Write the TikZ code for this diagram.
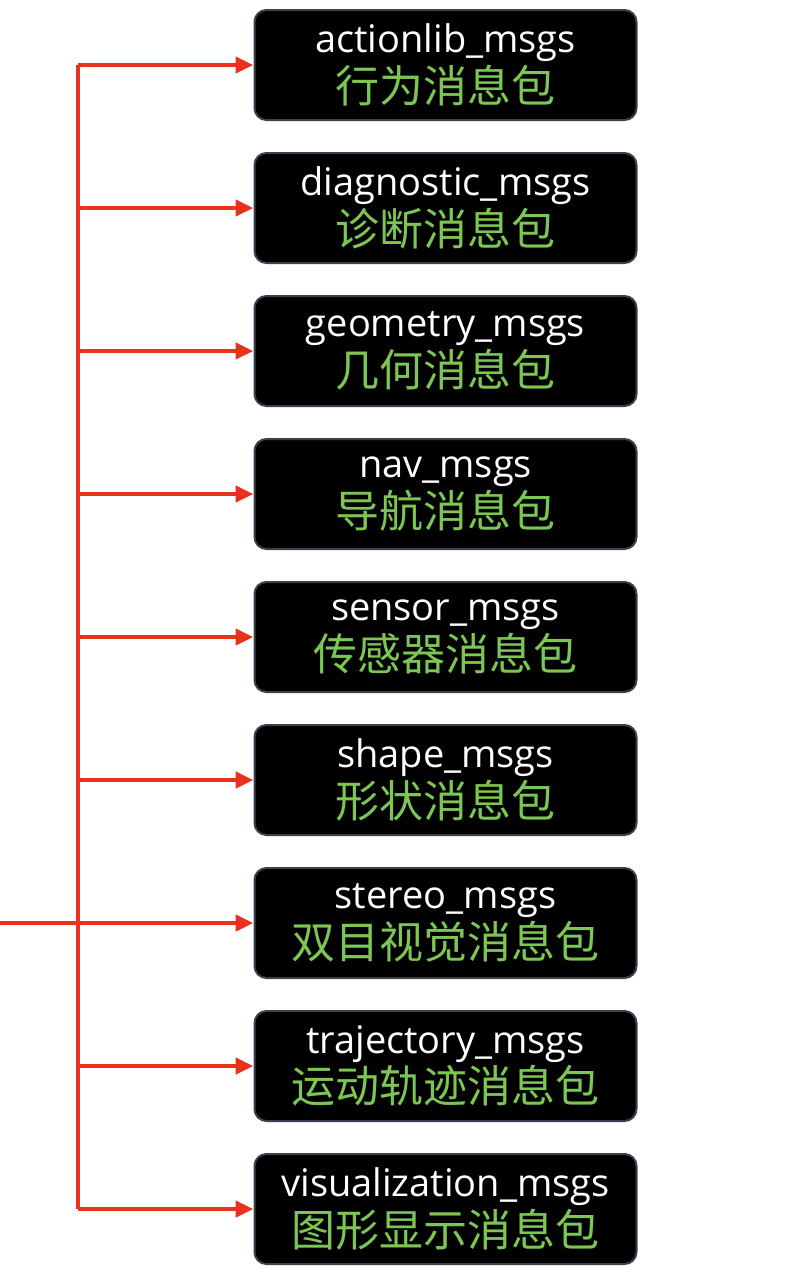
\documentclass[tikz,border=0pt]{standalone}
\usepackage{fontspec}
\setmainfont{Open Sans}
\newfontfamily\cjk{Noto Sans CJK SC}
\usetikzlibrary{arrows.meta}
\definecolor{rd}{HTML}{E8321E}
\definecolor{gr}{HTML}{7CC653}
\definecolor{bd}{HTML}{3A4050}
\begin{document}
\begin{tikzpicture}[x=1pt,y=-1pt,
  pkg/.style={draw=bd,line width=2pt,fill=black,rounded corners=12pt,minimum width=382pt,minimum height=110pt,align=center,inner sep=0pt},
  arr/.style={draw=rd,line width=4.5pt,-{Triangle[length=18pt,width=16pt]}}]
\useasboundingbox (0,0) rectangle (789,1280);
\def\pk#1#2#3{\node[pkg] (b#1) at (445.5,{65+143*#1}) {\color{white}\fontsize{38}{44}\selectfont #2\\[2pt]\color{gr}\cjk\fontsize{44}{48}\selectfont #3};
\coordinate (t#1) at (78,{65+143*#1});}
\pk{0}{actionlib\_msgs}{行为消息包}
\pk{1}{diagnostic\_msgs}{诊断消息包}
\pk{2}{geometry\_msgs}{几何消息包}
\pk{3}{nav\_msgs}{导航消息包}
\pk{4}{sensor\_msgs}{传感器消息包}
\pk{5}{shape\_msgs}{形状消息包}
\pk{6}{stereo\_msgs}{双目视觉消息包}
\pk{7}{trajectory\_msgs}{运动轨迹消息包}
\pk{8}{visualization\_msgs}{图形显示消息包}
\coordinate (s) at (0,923);
\draw[draw=rd,line width=4.5pt] (t0) -- (t8);
\draw[draw=rd,line width=4.5pt] (s) -- (t6);
\foreach \i in {0,...,8} \draw[arr] (t\i) -- (b\i.west);
\end{tikzpicture}
\end{document}
